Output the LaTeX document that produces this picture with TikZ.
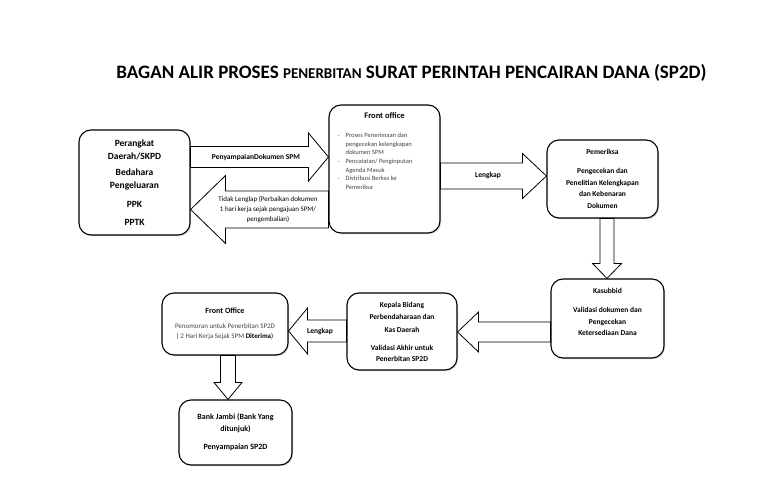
\documentclass[tikz,border=0pt]{standalone}
\usepackage{fontspec}
\setmainfont{Carlito}
\usetikzlibrary{positioning,calc,shadows}
\definecolor{abu}{RGB}{70,70,70}

\newcommand{\panahmendatar}[6]{% dari, ke, y, setengah batang, setengah kepala, panjang kepala
  \draw[panah] let \p1=(#1), \p2=(#2), \n1={sign(\x2-\x1)} in
    ({\x1},{#3+#4}) -- ({\x2-(\n1)*#6},{#3+#4}) -- ({\x2-(\n1)*#6},{#3+#5}) -- ({\x2},{#3})
    -- ({\x2-(\n1)*#6},{#3-#5}) -- ({\x2-(\n1)*#6},{#3-#4}) -- ({\x1},{#3-#4}) -- cycle;}
\newcommand{\panahtegak}[6]{% dari, ke, x, setengah batang, setengah kepala, panjang kepala
  \draw[panah] let \p1=(#1), \p2=(#2), \n1={sign(\y2-\y1)} in
    ({#3-#4},{\y1}) -- ({#3-#4},{\y2-(\n1)*#6}) -- ({#3-#5},{\y2-(\n1)*#6}) -- ({#3},{\y2})
    -- ({#3+#5},{\y2-(\n1)*#6}) -- ({#3+#4},{\y2-(\n1)*#6}) -- ({#3+#4},{\y1}) -- cycle;}

\begin{document}
\begin{tikzpicture}[x=1pt,y=1pt,
    isi/.style={align=center,font=\bfseries\fontsize{7.5}{11.5}\selectfont},
    kotak/.style={isi,draw,line width=1.1pt,rounded corners=12pt,fill=white,
      drop shadow={shadow xshift=1.2pt,shadow yshift=-1.2pt,opacity=0.3}},
    panah/.style={draw,fill=white,line width=0.8pt}]
  \useasboundingbox (0,0) rectangle (768,503);

  \node[font=\bfseries\fontsize{19}{21}\selectfont] (judul) at (411.5,430)
    {BAGAN ALIR PROSES {\fontsize{15}{17}\selectfont PENERBITAN} SURAT PERINTAH PENCAIRAN DANA (SP2D)}; %judul

  \node[kotak,minimum width=111,minimum height=105,font=\bfseries\fontsize{9.5}{13}\selectfont] (pd) at (134.5,320.5)
    {Perangkat\\Daerah/SKPD\\[3pt]Bedahara\\Pengeluaran\\[6pt]PPK\\[5pt]PPTK};
  \node[kotak,minimum width=111,minimum height=128] (fo) at (384.5,334) {};
  \node[below=8pt of fo.north,inner sep=0,font=\bfseries\fontsize{8.5}{10}\selectfont] (fo-judul) {Front office};
  \node[anchor=north west,inner sep=0,text=abu,font=\fontsize{6.5}{8.6}\selectfont] (fo-isi) at ([xshift=9,yshift=-27]fo.north west)
    {\begin{tabular}{@{}l@{\hspace{6pt}}l@{}}
      -&Proses Penerimaan dan\\&pengecekan kelengkapan\\&dokumen SPM\\
      -&Pencatatan/ Penginputan\\&Agenda Masuk\\
      -&Distribusi Berkas ke\\&Pemeriksa
    \end{tabular}};
  \node[kotak,minimum width=111,minimum height=78] (pm) at (602.5,324)
    {Pemeriksa\\[7.5pt]Pengecekan dan\\Penelitian Kelengkapan\\dan Kebenaran\\Dokumen};
  \node[kotak,minimum width=113,minimum height=79] (ks) at (607.5,184.5) {};
  \node[isi] (ks-isi) at ([yshift=6.5]ks.center) {Kasubbid\\[7.5pt]Validasi dokumen dan\\Pengecekan\\Ketersediaan Dana};
  \node[kotak,minimum width=110,minimum height=77,font=\bfseries\fontsize{7.5}{12.5}\selectfont] (kb) at (402,171.5)
    {Kepala Bidang\\Perbendaharaan dan\\Kas Daerah\\[5.5pt]Validasi Akhir untuk\\[-1.5pt]Penerbitan SP2D};
  \node[kotak,minimum width=126,minimum height=62,font=\fontsize{7}{10}\selectfont] (fo2) at (225,179)
    {{\bfseries\fontsize{8}{10}\selectfont Front Office}\\[5pt]{\color{abu}Penomoran untuk Penerbitan SP2D}\\{\color{abu}( 2 Hari Kerja Sejak SPM} \textbf{Diterima})};
  \node[kotak,minimum width=113,minimum height=65,font=\bfseries\fontsize{8}{12}\selectfont] (bank) at (235.5,70.5)
    {Bank Jambi (Bank Yang\\ditunjuk)\\[6pt]Penyampaian SP2D};

  \panahmendatar{pd.east}{fo.west}{346}{10.5}{24}{20}
  \panahmendatar{fo.west}{pd.east}{293.5}{18.5}{34}{35}
  \panahmendatar{fo.east}{pm.west}{327}{13}{22.5}{24}
  \panahtegak{pm.south}{ks.north}{607}{7}{14.5}{15}
  \panahmendatar{ks.west}{kb.east}{171}{10}{20}{21}
  \panahmendatar{kb.west}{fo2.east}{172}{11}{23}{19}
  \panahtegak{fo2.south}{bank.north}{228}{7.5}{14}{17}

  \node[font=\bfseries\fontsize{7.5}{9}\selectfont] (t-spm) at (256,346) {PenyampaianDokumen SPM};
  \node[align=center,font=\fontsize{7}{10}\selectfont] (t-tidak) at (268,293)
    {Tidak Lenglap (Perbaikan dokumen\\1 hari kerja sejak pengajuan SPM/\\pengembalian)};
  \node[font=\bfseries\fontsize{7.5}{9}\selectfont] (t-lengkap1) at (488,327) {Lengkap};
  \node[font=\bfseries\fontsize{7.5}{9}\selectfont] (t-lengkap2) at (320,171) {Lengkap};
\end{tikzpicture}
\end{document}
